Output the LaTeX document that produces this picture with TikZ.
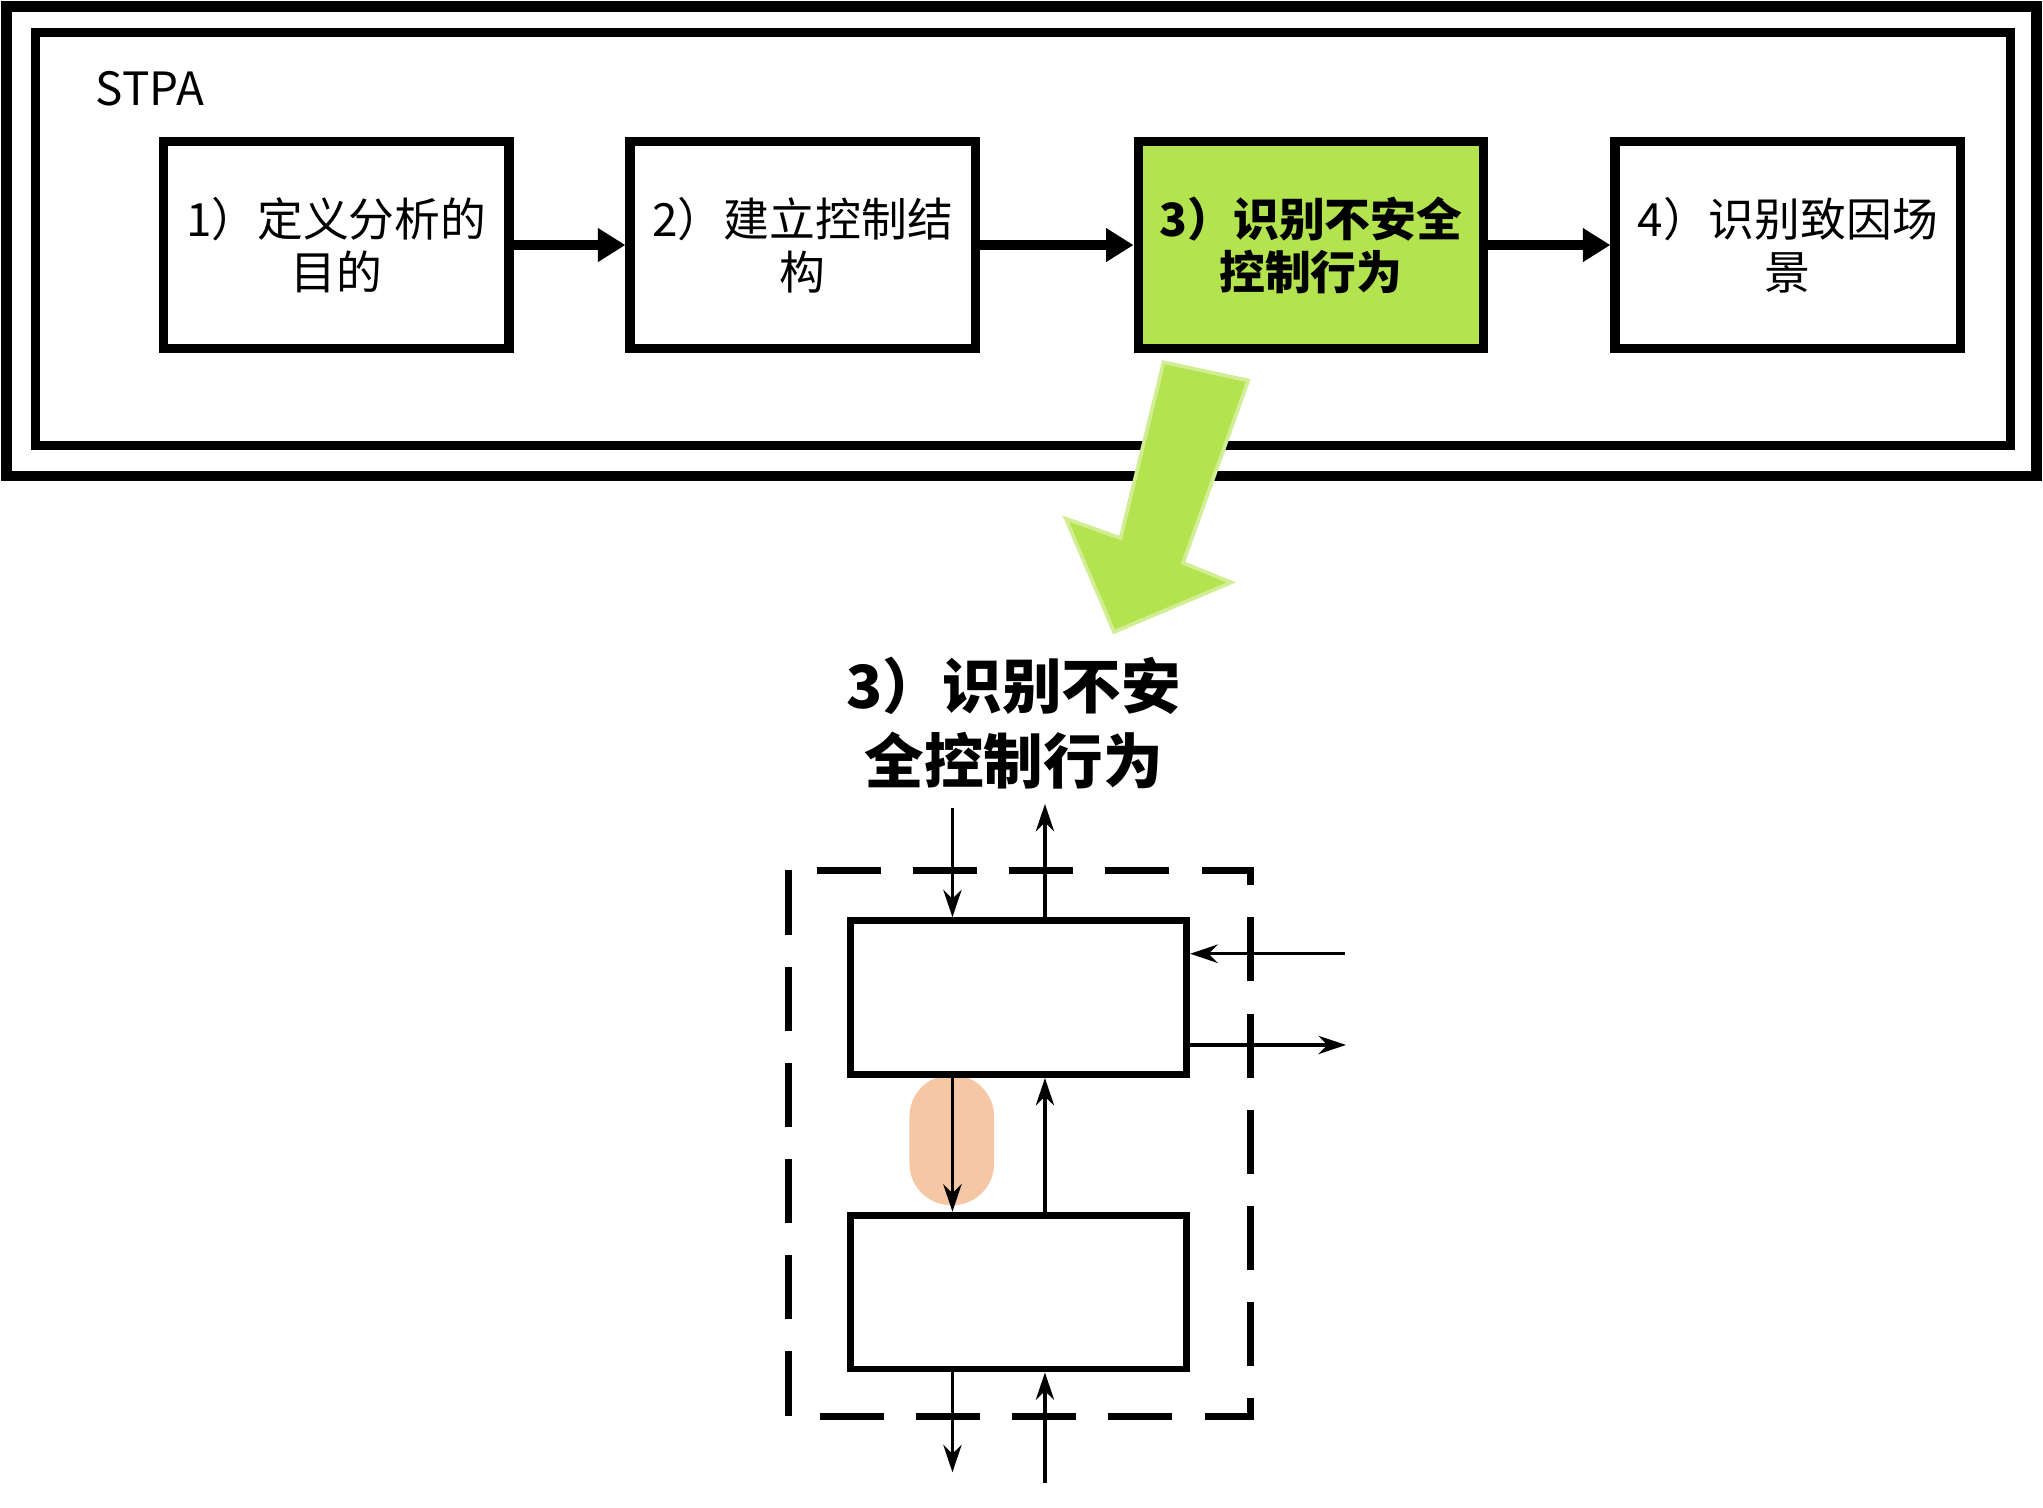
\documentclass[tikz,border=0pt]{standalone}
\usepackage{fontspec}
\setmainfont{Noto Sans CJK SC}
\usetikzlibrary{arrows.meta,calc}
\definecolor{lg}{HTML}{B3E34F}
\definecolor{org}{HTML}{F4B98F}
\begin{document}
\begin{tikzpicture}[x=0.01cm,y=-0.01cm,
  stepbox/.style={draw,line width=2pt,minimum width=2.65cm,minimum height=1.59cm,inner sep=0pt,align=center,font=\fontsize{10}{11.5}\selectfont,anchor=north west},
  bigarr/.style={line width=2pt,-{Triangle[length=6pt,width=7pt]}},
  thin/.style={line width=0.7pt,-{Stealth[length=6pt,width=4pt]}},
  blk/.style={draw,line width=1.5pt,minimum width=2.58cm,minimum height=1.18cm,anchor=north west,inner sep=0pt}]
\useasboundingbox (0,0) rectangle (1568,1157);
\draw[line width=2.2pt] (5,5) rectangle (1563,365);
\draw[line width=2pt] (27,25) rectangle (1543,342);
\node[font=\fontsize{10}{12}\selectfont] (stpa) at (115,68) {STPA};
\node[stepbox] (s1) at (122,105) {1）定义分析的\\目的};
\node[stepbox] (s2) at (480,105) {2）建立控制结\\构};
\node[stepbox,fill=lg,font=\fontsize{10}{11.5}\selectfont\bfseries] (s3) at (870,105) {3）识别不安全\\控制行为};
\node[stepbox] (s4) at (1236,105) {4）识别致因场\\景};
\draw[bigarr] (s1) -- (s2);
\draw[bigarr] (s2) -- (s3);
\draw[bigarr] (s3) -- (s4);
\fill[lg,draw=lg!60!white,line width=0.8pt] (893,278) -- (958,292) -- (908,432) -- (945,447) -- (855,485) -- (818,398) -- (860,413) -- cycle;
\node[font=\fontsize{13}{16.5}\selectfont\bfseries,align=center] (title) at (778,555) {3）识别不安\\全控制行为};
\draw[line width=1.5pt,dash pattern=on 14pt off 7pt] (605,668) rectangle (960,1087);
\fill[org,opacity=0.8,rounded corners=0.32cm] (698,825) rectangle (763,925);
\node[blk] (u) at (650,704) {};
\node[blk] (l) at (650,930) {};
\coordinate (a1) at (731,620); \coordinate (a2) at (802,617);
\coordinate (r1) at (1032,732); \coordinate (r2) at (1033,802);
\coordinate (b1) at (731,1130); \coordinate (b2) at (802,1138);
\draw[thin] (a1) -- (a1 |- u.north);
\draw[thin] (u.north -| a2) -- (a2);
\draw[thin] (r1) -- (r1 -| u.east);
\draw[thin] (r2 -| u.east) -- (r2);
\draw[thin] (u.south -| a1) -- (l.north -| a1);
\draw[thin] (l.north -| a2) -- (u.south -| a2);
\draw[thin] (l.south -| b1) -- (b1);
\draw[thin] (b2) -- (l.south -| b2);
\end{tikzpicture}
\end{document}
